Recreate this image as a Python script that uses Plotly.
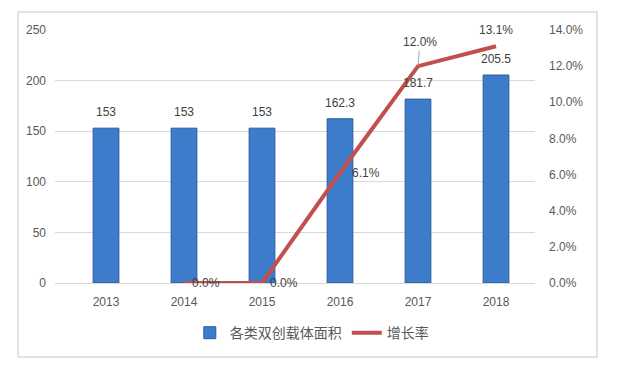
import plotly.graph_objects as go

years = ["2013", "2014", "2015", "2016", "2017", "2018"]
area = [153, 153, 153, 162.3, 181.7, 205.5]
area_labels = ["153", "153", "153", "162.3", "181.7", "205.5"]
growth = [None, 0.0, 0.0, 6.1, 12.0, 13.1]
growth_labels = [None, "0.0%", "0.0%", "6.1%", "12.0%", "13.1%"]

font_num = "Liberation Sans, Arial, sans-serif"
font_cjk = "Noto Sans CJK SC, sans-serif"
txt_col = "#595959"
lbl_col = "#404040"

fig = go.Figure()
fig.add_trace(go.Bar(
    x=years, y=area, name="各类双创载体面积",
    marker=dict(color="#3D7CCB", line=dict(color="#2B5C9E", width=1)),
    width=0.33,
))
fig.add_trace(go.Scatter(
    x=years, y=growth, name="增长率", yaxis="y2", mode="lines",
    line=dict(color="#C0504D", width=4),
))

# bar value labels
for i, (v, t) in enumerate(zip(area, area_labels)):
    fig.add_annotation(x=i, y=v, text=t, showarrow=False, yshift=16,
                       font=dict(family=font_num, size=12, color=lbl_col))

# line labels
offsets = {1: (22, 0), 2: (22, 0), 3: (26, 0), 5: (0, 16)}
for i, (v, t) in enumerate(zip(growth, growth_labels)):
    if v is None:
        continue
    if i == 4:
        fig.add_annotation(x=i, y=v, yref="y2", text=t, showarrow=True,
                           ax=2, ay=-24, arrowhead=0, arrowwidth=1, arrowcolor="#A6A6A6",
                           standoff=0,
                           font=dict(family=font_num, size=12, color=lbl_col))
    else:
        dx, dy = offsets[i]
        fig.add_annotation(x=i, y=v, yref="y2", text=t, showarrow=False,
                           xshift=dx, yshift=dy,
                           font=dict(family=font_num, size=12, color=lbl_col))

# outer border
fig.add_shape(type="rect", xref="paper", yref="paper",
              x0=-0.077, x1=1.129, y0=-0.2925, y1=1.071,
              line=dict(color="#D9D9D9", width=1.5), layer="below")

# page body has an 8px default margin, so the figure is offset by 8px
fig.update_layout(
    width=618, height=365,
    margin=dict(l=47, r=91, t=22, b=90),
    plot_bgcolor="white", paper_bgcolor="white",
    font=dict(family=font_num, size=12, color=txt_col),
    showlegend=True,
    legend=dict(orientation="h", x=0.535, y=-0.198, xanchor="center", yanchor="middle",
                font=dict(family=font_cjk, size=14, color=txt_col),
                itemwidth=30, tracegroupgap=10),
    xaxis=dict(type="category", range=[-0.654, 5.5], showgrid=False,
               showline=True, linecolor="#D9D9D9", linewidth=1, ticks="",
               ticklabelstandoff=8, tickfont=dict(size=12, color=txt_col)),
    yaxis=dict(range=[0, 250], dtick=50, showgrid=True, gridcolor="#D9D9D9",
               gridwidth=1, zeroline=False, showline=False, ticks="",
               ticklabelstandoff=8, tickfont=dict(size=12, color=txt_col)),
    yaxis2=dict(overlaying="y", side="right", range=[0, 14], dtick=2,
                tickformat=".1f", ticksuffix="%", showgrid=False, zeroline=False,
                showline=False, ticks="", ticklabelstandoff=13,
                tickfont=dict(size=12, color=txt_col)),
    bargap=0.6,
)

fig.write_html("out.html")
